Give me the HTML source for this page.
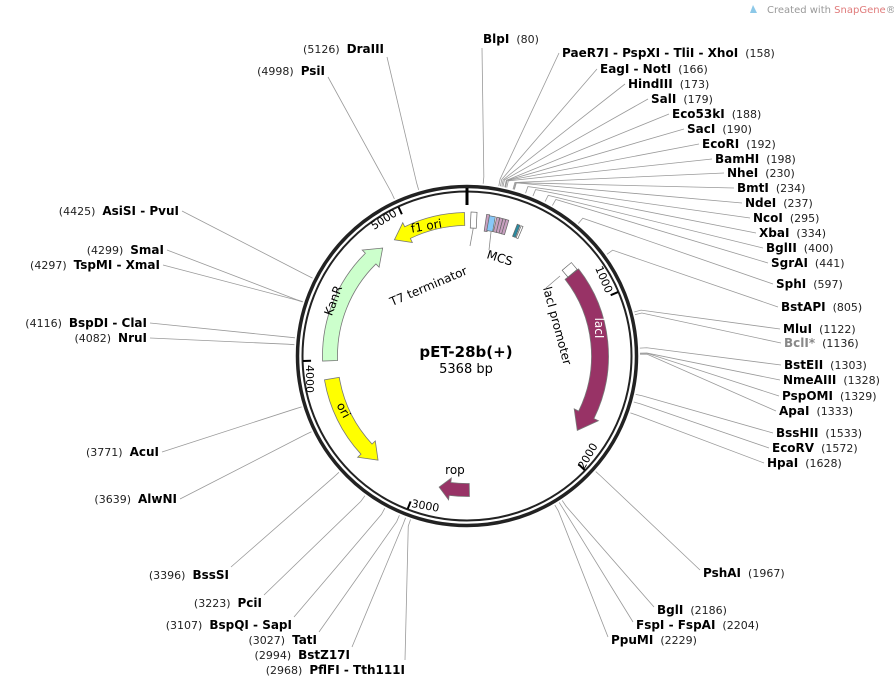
<!DOCTYPE html>
<html><head><meta charset="utf-8">
<style>
html,body{margin:0;padding:0;background:#fff;}
svg{display:block;font-family:"DejaVu Sans","Liberation Sans",sans-serif;}
.n{font-weight:bold;font-size:12px;fill:#000;}
.p{font-size:11px;fill:#222;}
.ln{stroke:#999;stroke-width:0.8;fill:none;}
</style></head><body>
<svg id="s" width="894" height="684" viewBox="0 0 894 684" xmlns="http://www.w3.org/2000/svg">
<text x="767" y="13" font-size="10" fill="#999">Created with <tspan fill="#e07b7b">SnapGene</tspan>®</text>
<path d="M753 5 l4 8 l-7 0 z" fill="#8cc8e8"/>
<g id="lines"></g>
<circle cx="467" cy="356" r="169.5" fill="none" stroke="#222" stroke-width="3.5"/>
<circle cx="467" cy="356" r="164.5" fill="none" stroke="#222" stroke-width="2"/>
<line x1="467" y1="188" x2="467" y2="205" stroke="#000" stroke-width="3"/>
<g id="feat"></g>
<text x="466" y="357" font-size="15" font-weight="bold" text-anchor="middle">pET-28b(+)</text>
<text x="466" y="373" font-size="13" text-anchor="middle">5368 bp</text>
<g font-size="12" fill="#000">
<text transform="translate(430,290) rotate(-23)" text-anchor="middle">T7 terminator</text>
<text transform="translate(486,258) rotate(17)">MCS</text>
<text transform="translate(543,288) rotate(75)">lacI promoter</text>
<text transform="translate(595,328) rotate(90)" fill="#fff" text-anchor="middle">lacI</text>
<text transform="translate(337,302) rotate(-70)" text-anchor="middle">KanR</text>
<text transform="translate(340,412) rotate(62)" text-anchor="middle">ori</text>
<text transform="translate(427,230) rotate(-10)" text-anchor="middle">f1 ori</text>
<text x="455" y="474" text-anchor="middle">rop</text>
</g>
<g font-size="11" fill="#000">
<text transform="translate(595,268) rotate(67)">1000</text>
<text transform="translate(584,470) rotate(-60)">2000</text>
<text transform="translate(411,507) rotate(10)">3000</text>
<text transform="translate(306,365) rotate(90)">4000</text>
<text transform="translate(374,230) rotate(-32)">5000</text>
</g>
<g id="lab"></g>
</svg>
<script>
var NS="http://www.w3.org/2000/svg",cx=467,cy=356,L=5368;
function pt(a,r){var t=a*Math.PI/180;return [cx+r*Math.sin(t),cy-r*Math.cos(t)];}
function el(p,tag,at,txt){var e=document.createElementNS(NS,tag);for(var k in at)e.setAttribute(k,at[k]);if(txt!=null)e.textContent=txt;p.appendChild(e);return e;}
var F=document.getElementById('feat'),G=document.getElementById('lines'),B=document.getElementById('lab');
[1000,2000,3000,4000,5000].forEach(function(v){var a=v/L*360,p1=pt(a,164),p2=pt(a,156);el(F,'line',{x1:p1[0],y1:p1[1],x2:p2[0],y2:p2[1],stroke:'#000','stroke-width':2});});
function arrow(a1,a2,r,w,hw,hl,fill){
 var dir=a2>a1?1:-1,ha=hl/r*180/Math.PI,ab=a2-dir*ha,r1=r-w/2,r2=r+w/2;
 var s=dir>0?1:0,large=Math.abs(ab-a1)>180?1:0;
 var A=pt(a1,r2),Bp=pt(ab,r2),C=pt(ab,r+hw/2),T=pt(a2,r),D=pt(ab,r-hw/2),E=pt(ab,r1),Fp=pt(a1,r1);
 var d='M'+A+' A'+r2+','+r2+' 0 '+large+' '+s+' '+Bp+' L'+C+' L'+T+' L'+D+' L'+E+' A'+r1+','+r1+' 0 '+large+' '+(1-s)+' '+Fp+' Z';
 el(F,'path',{d:d,fill:fill,stroke:'#777','stroke-width':0.8});
}
arrow(-1,-32,137,13,22,15,'#ffff00');
arrow(-92,-38,137,15,24,16,'#ccffcc');
arrow(-99.5,-139.5,137,15,24,16,'#ffff00');
arrow(52,124,133,17,27,18,'#983366');
arrow(179,192,134,13,22,11,'#983366');
function box(a,r1,r2,wd,fill){var p=pt(a,(r1+r2)/2);el(F,'rect',{x:-wd/2,y:-(r2-r1)/2,width:wd,height:r2-r1,fill:fill,stroke:'#666','stroke-width':0.7,transform:'translate('+p[0]+','+p[1]+') rotate('+a+')'});}
box(2.8,128,144,6,'#fff');
box(8.5,126,143,3,'#c8a0c0');box(10.3,127,142,6,'#88c8f8');box(12.7,127,142,3,'#c8a0c0');box(14,127,142,3,'#c8a0c0');box(15.3,127,142,3,'#c8a0c0');box(16.5,127,142,3,'#c8a0c0');
box(21.5,128,141,3,'#2a8aa0');box(23,128,141,2,'#fff');
box(50,128,140,9,'#fff');
var p1=pt(2.8,128),p2=[470,246];el(F,'line',{x1:p1[0],y1:p1[1],x2:p2[0],y2:p2[1],stroke:'#888','stroke-width':0.8});
el(F,'line',{x1:491,y1:232,x2:489,y2:250,stroke:'#888','stroke-width':0.8});
el(F,'line',{x1:560,y1:276,x2:546,y2:288,stroke:'#888','stroke-width':0.8});
var R=[["BlpI",80,483,39],["PaeR7I - PspXI - TliI - XhoI",158,562,53],["EagI - NotI",166,600,69],["HindIII",173,628,84],["SalI",179,651,99],["Eco53kI",188,672,114],["SacI",190,687,129],["EcoRI",192,702,144],["BamHI",198,715,159],["NheI",230,727,173],["BmtI",234,737,188],["NdeI",237,745,203],["NcoI",295,753,218],["XbaI",334,759,233],["BglII",400,766,248],["SgrAI",441,771,263],["SphI",597,776,284],["BstAPI",805,781,307],["MluI",1122,783,329],["BclI*",1136,784,343],["BstEII",1303,784,365],["NmeAIII",1328,783,380],["PspOMI",1329,782,396],["ApaI",1333,779,411],["BssHII",1533,776,433],["EcoRV",1572,772,448],["HpaI",1628,767,463],["PshAI",1967,703,573],["BglI",2186,657,610],["FspI - FspAI",2204,636,625],["PpuMI",2229,611,640]];
var Lf=[["DraIII",5126,384,49],["PsiI",4998,325,71],["AsiSI - PvuI",4425,179,211],["SmaI",4299,164,250],["TspMI - XmaI",4297,160,265],["BspDI - ClaI",4116,147,323],["NruI",4082,147,338],["AcuI",3771,159,452],["AlwNI",3639,177,499],["BssSI",3396,229,575],["PciI",3223,262,603],["BspQI - SapI",3107,292,625],["TatI",3027,317,640],["BstZ17I",2994,350,655],["PflFI - Tth111I",2968,405,670]];
function line(pos,ex,ey){var a=pos/L*360,a1=pt(a,173),a2=pt(a,180);el(G,'polyline',{points:a1+' '+a2+' '+ex+','+ey,'class':'ln'});}
R.forEach(function(d){
 var t=el(B,'text',{x:d[2],y:d[3]+4});
 var n=el(t,'tspan',{'class':'n'},d[0]); if(d[0]=="BclI*")n.setAttribute('style','fill:#888');
 el(t,'tspan',{'class':'p',dx:7},'('+d[1]+')');
 if(d[0]=="BlpI")line(d[1],482,48);else if(d[3]>560)line(d[1],d[2]-3,d[3]-3);else line(d[1],d[2]-3,d[3]);
});
Lf.forEach(function(d){
 var t=el(B,'text',{x:d[2],y:d[3]+4,'text-anchor':'end'});
 el(t,'tspan',{'class':'p'},'('+d[1]+')');
 el(t,'tspan',{'class':'n',dx:7},d[0]);
 if(d[0]=="PflFI - Tth111I")line(d[1],405,660);
 else if(d[0]=="DraIII")line(d[1],387,57);
 else if(d[0]=="PsiI")line(d[1],328,77);
 else if(d[3]>560)line(d[1],d[2]+2,d[3]-8);
 else line(d[1],d[2]+3,d[3]);
});
</script>
</body></html>
